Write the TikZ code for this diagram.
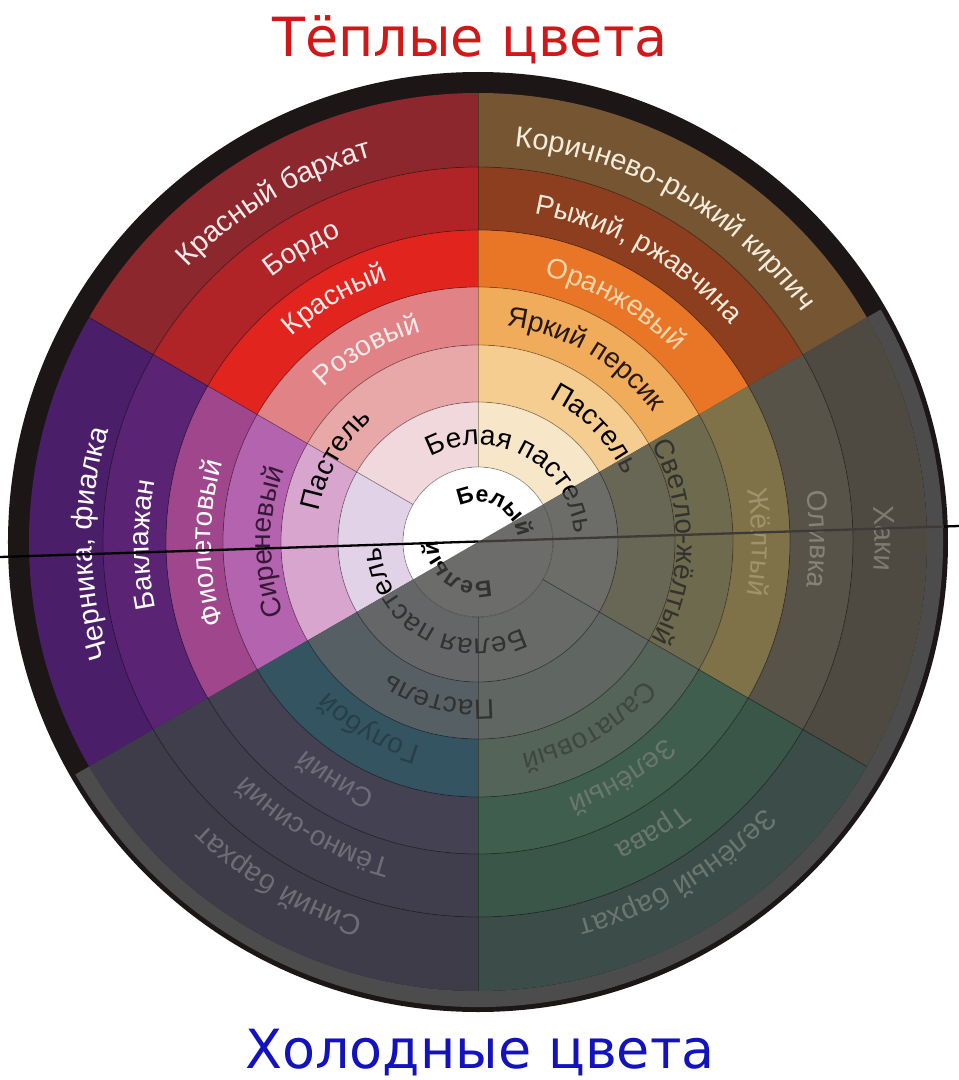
\documentclass[tikz,border=0pt]{standalone}
\usepackage{fontspec}
\setmainfont{Liberation Sans}
\newfontfamily\titlefont{DejaVu Sans}
\usetikzlibrary{decorations.text}

% rim
\definecolor{rim}{RGB}{28,22,22}
\definecolor{rimgray}{RGB}{76,76,76}
\definecolor{wgray}{RGB}{108,108,106}
% orange / brown sector
\definecolor{oA1}{RGB}{248,230,200}
\definecolor{oA2}{RGB}{246,205,145}
\definecolor{oA3}{RGB}{240,172,90}
\definecolor{oA4}{RGB}{232,118,38}
\definecolor{oA5}{RGB}{140,62,30}
\definecolor{oA6}{RGB}{118,85,50}
% red sector
\definecolor{rA1}{RGB}{240,216,220}
\definecolor{rA2}{RGB}{232,168,168}
\definecolor{rA3}{RGB}{224,130,134}
\definecolor{rA4}{RGB}{226,36,30}
\definecolor{rA5}{RGB}{176,36,40}
\definecolor{rA6}{RGB}{140,40,45}
% purple sector
\definecolor{pA1}{RGB}{225,210,232}
\definecolor{pA2}{RGB}{215,165,205}
\definecolor{pA3}{RGB}{180,100,175}
\definecolor{pA4}{RGB}{160,70,140}
\definecolor{pA5}{RGB}{90,35,115}
\definecolor{pA6}{RGB}{75,30,105}
% olive sector (under shade)
\definecolor{lA1}{RGB}{108,108,104}
\definecolor{lA2}{RGB}{104,102,84}
\definecolor{lA3}{RGB}{110,106,78}
\definecolor{lA4}{RGB}{128,114,72}
\definecolor{lA5}{RGB}{88,83,72}
\definecolor{lA6}{RGB}{78,74,66}
% green sector (under shade)
\definecolor{gA1}{RGB}{104,106,104}
\definecolor{gA2}{RGB}{96,102,98}
\definecolor{gA3}{RGB}{84,100,88}
\definecolor{gA4}{RGB}{64,94,78}
\definecolor{gA5}{RGB}{58,86,72}
\definecolor{gA6}{RGB}{60,76,72}
% blue sector (under shade)
\definecolor{bA1}{RGB}{100,102,104}
\definecolor{bA2}{RGB}{86,96,100}
\definecolor{bA3}{RGB}{52,84,98}
\definecolor{bA4}{RGB}{68,66,82}
\definecolor{bA5}{RGB}{64,62,76}
\definecolor{bA6}{RGB}{62,60,72}
% text colours
\definecolor{cream}{RGB}{245,236,220}
\definecolor{pinkw}{RGB}{250,235,235}
\definecolor{peach}{RGB}{250,214,172}
\definecolor{darkbr}{RGB}{40,25,15}
\definecolor{sirt}{RGB}{55,25,55}
\definecolor{dimdark}{RGB}{50,50,48}
\definecolor{yelt}{RGB}{160,146,108}
\definecolor{olvt}{RGB}{135,130,118}
\definecolor{khat}{RGB}{126,122,114}
\definecolor{grnt}{RGB}{106,118,110}
\definecolor{grnd}{RGB}{62,72,64}
\definecolor{blut}{RGB}{110,108,118}
\definecolor{blud}{RGB}{40,62,75}
\definecolor{shline}{RGB}{62,58,55}
\definecolor{warm}{RGB}{208,24,24}
\definecolor{cold}{RGB}{18,18,190}

\newcommand\fA{\fontsize{28}{30}\selectfont}
\newcommand\fB{\fontsize{29}{31}\selectfont}
\newcommand\fW{\bfseries\fontsize{23}{25}\selectfont}

\newcommand\rs[5]{\fill[fill=#1] (#2:#4) arc[start angle=#2,end angle=#3,radius=#4] -- (#3:#5) arc[start angle=#3,end angle=#2,radius=#5] -- cycle;}
\newcommand\sector[8]{\rs{#3}{#1}{#2}{75}{140}\rs{#4}{#1}{#2}{140}{197}\rs{#5}{#1}{#2}{197}{255}\rs{#6}{#1}{#2}{255}{312}\rs{#7}{#1}{#2}{312}{375}\rs{#8}{#1}{#2}{375}{449}}
\newcommand\arctext[5]{\path[decorate,decoration={text along path,text align=center,text={|\color{#1}#2|#5}}] ({#3+80}:#4) arc[start angle={#3+80},end angle={#3-80},radius=#4];}
\newcommand\centertexts[1]{%
  \arctext{#1}{\fW}{62}{40}{Белый}
  \arctext{#1}{\fA}{62}{97}{Белая пастель}
  \arctext{#1}{\fA}{44}{160}{Пастель}
  \arctext{#1}{\fW}{233}{40}{Белый}
  \arctext{#1}{\fA}{240}{97}{Белая пастель}
  \arctext{#1}{\fA}{256}{158}{Пастель}}

\tikzset{sepline/.style={draw=black,draw opacity=0.32,line width=0.8pt},
  divline/.style={line width=2.3pt},
  titlestyle/.style={font=\titlefont\fontsize{54}{60}\selectfont,anchor=base,inner sep=0pt}}

\begin{document}
\begin{tikzpicture}[x=1pt,y=1pt]
\useasboundingbox (-478,-538) rectangle (481,542);
\fill[white] (-478,-538) rectangle (481,542);

% wheel
\fill[rim] (0,0) circle[radius=470];
\sector{30}{90}{oA1}{oA2}{oA3}{oA4}{oA5}{oA6}
\sector{90}{150}{rA1}{rA2}{rA3}{rA4}{rA5}{rA6}
\sector{150}{210}{pA1}{pA2}{pA3}{pA4}{pA5}{pA6}
\sector{-30}{30}{lA1}{lA2}{lA3}{lA4}{lA5}{lA6}
\sector{-90}{-30}{gA1}{gA2}{gA3}{gA4}{gA5}{gA6}
\sector{-150}{-90}{bA1}{bA2}{bA3}{bA4}{bA5}{bA6}
\rs{rimgray}{-150}{30}{449}{465}
\fill[white] (0,0) circle[radius=75];
\fill[wgray] (0,0) -- (-150:75) arc[start angle=-150,end angle=30,radius=75] -- cycle;

% separators
\foreach \r in {75,140,197,255,312,375} \draw[sepline] (0,0) circle[radius=\r];
\foreach \a in {90,150,270,330} \draw[sepline] (\a:75) -- (\a:449);

% orange / brown sector
\arctext{cream}{\fB}{60}{397}{Коричнево-рыжий кирпич}
\arctext{cream}{\fA}{60.5}{333}{Рыжий, ржавчина}
\arctext{peach}{\fA}{60}{274}{Оранжевый}
\arctext{darkbr}{\fA}{59.5}{218}{Яркий персик}
% red sector
\arctext{pinkw}{\fB}{121}{399}{Красный бархат}
\arctext{pinkw}{\fA}{121}{335}{Бордо}
\arctext{pinkw}{\fA}{120.5}{277}{Красный}
\arctext{pinkw}{\fA}{120}{218}{Розовый}
\arctext{black}{\fA}{150}{162}{Пастель}
% purple sector
\arctext{white}{\fB}{180.3}{386}{Черника, фиалка}
\arctext{white}{\fA}{180.5}{329}{Баклажан}
\arctext{white}{\fA}{180.2}{267}{Фиолетовый}
\arctext{sirt}{\fA}{180}{207}{Сиреневый}
% olive sector
\arctext{dimdark}{\fA}{0}{199}{Светло-жёлтый}
\arctext{yelt}{\fA}{0}{274}{Жёлтый}
\arctext{olvt}{\fA}{0.5}{332}{Оливка}
\arctext{khat}{\fB}{0.5}{397}{Хаки}
% green sector
\arctext{grnd}{\fA}{301}{216}{Салатовый}
\arctext{grnt}{\fA}{301.5}{271}{Зелёный}
\arctext{grnt}{\fA}{301}{332}{Трава}
\arctext{grnt}{\fB}{301}{391}{Зелёный бархат}
% blue sector
\arctext{blud}{\fA}{239.5}{212}{Голубой}
\arctext{blut}{\fA}{239}{270}{Синий}
\arctext{blut}{\fA}{240}{329}{Тёмно-синий}
\arctext{blut}{\fB}{239.5}{393}{Синий бархат}

% centre labels, split by the shaded half
\begin{scope}
  \clip (30:700) -- (120:700) -- (210:700) -- cycle;
  \centertexts{black}
\end{scope}
\begin{scope}
  \clip (30:700) -- (-60:700) -- (-150:700) -- cycle;
  \centertexts{dimdark}
\end{scope}

% thin dividing line
\coordinate (L) at (-478,-15);
\coordinate (C) at (0,0.5);
\coordinate (E) at (466,15.5);
\coordinate (R) at (481,16);
\draw[divline,black] (L) -- (C);
\draw[divline,shline] (C) -- (E);
\draw[divline,black] (E) -- (R);

% titles
\node[titlestyle,text=warm] (warm) at (-8,485) {Тёплые цвета};
\node[titlestyle,text=cold] (cold) at (2,-526) {Холодные цвета};
\end{tikzpicture}
\end{document}
